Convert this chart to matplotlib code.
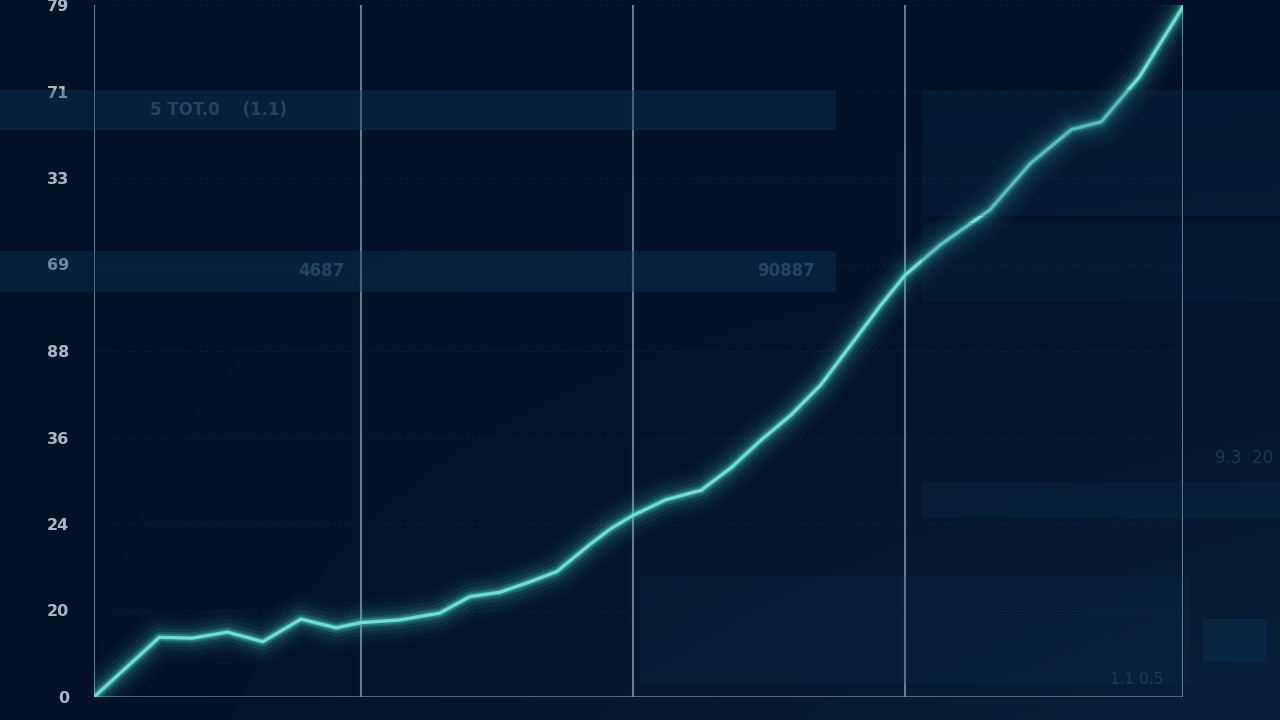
import matplotlib.pyplot as plt
from matplotlib.patches import Rectangle
import numpy as np

# Дані лінії (x: 0..40, y: 0..80 в одиницях шкали)
x_vals = [0.0, 2.4, 3.6, 4.9, 6.2, 7.6, 8.9, 9.8, 11.2, 12.7, 13.8, 14.9, 16.0,
          17.0, 18.2, 19.0, 19.8, 21.0, 22.3, 23.4, 24.5, 25.6, 26.7, 27.8,
          28.9, 29.8, 31.1, 32.9, 34.4, 35.9, 37.0, 38.4, 40.0]
y_vals = [0.0, 6.9, 6.8, 7.5, 6.4, 9.0, 8.0, 8.6, 8.9, 9.7, 11.6, 12.1, 13.3,
          14.5, 17.6, 19.5, 21.0, 22.8, 23.9, 26.5, 29.7, 32.6, 36.1, 40.7,
          45.3, 48.8, 52.3, 56.3, 61.7, 65.6, 66.5, 71.7, 79.8]

y_ticks = [0, 10, 20, 30, 40, 50, 60, 70, 80]
y_tick_labels = ['0', '20', '24', '36', '88', '69', '33', '71', '79']
x_grid = [0, 9.8, 19.8, 29.8, 40]

bg = '#03132a'
grid_col = '#7890aa'

fig = plt.figure(figsize=(12.8, 7.2), dpi=100, facecolor=bg)

# Легкий градієнт фону (світліше внизу праворуч)
grad = np.linspace(0, 1, 256)
gx, gy = np.meshgrid(grad, grad)
base = np.array([2, 17, 38]) / 255
light = np.array([9, 36, 64]) / 255
w = np.clip(0.8 * gx * (1 - gy) ** 1.5, 0, 1)[..., None]
bg_ax = fig.add_axes([0, 0, 1, 1], zorder=-10)
bg_ax.imshow(base * (1 - w) + light * w, aspect='auto', origin='lower', extent=[0, 1, 0, 1])
bg_ax.set_axis_off()

# Фонові декоративні смуги (координати фігури)
bands = [
    (0.0, 0.82, 0.653, 0.875, 0.38),
    (0.0, 0.595, 0.653, 0.652, 0.38),
    (0.72, 0.70, 1.0, 0.875, 0.22),
    (0.72, 0.58, 1.0, 0.69, 0.18),
    (0.72, 0.28, 1.0, 0.33, 0.2),
    (0.5, 0.05, 0.93, 0.2, 0.15),
    (0.94, 0.08, 0.99, 0.14, 0.3),
]
for x0, y0, x1, y1, a in bands:
    fig.patches.append(Rectangle((x0, y0), x1 - x0, y1 - y0, transform=fig.transFigure,
                                 facecolor='#0e3a60', alpha=a, edgecolor='none', zorder=0))

ax = fig.add_axes([94 / 1280, 23 / 720, (1183 - 94) / 1280, (697 - 5) / 720])
ax.set_facecolor('none')
ax.set_xlim(0, 40)
ax.set_ylim(0, 80)

# Слабка горизонтальна сітка
for yt in y_ticks[1:]:
    ax.axhline(yt, color='#2a4a6a', lw=0.8, alpha=0.3, ls=(0, (2, 3)), zorder=1)

# Вертикальні лінії
for xg in x_grid:
    ax.axvline(xg, color=grid_col, lw=1.5, alpha=0.85, zorder=2)
ax.axhline(0, color=grid_col, lw=1.8, alpha=0.85, zorder=2)

# Світіння лінії
for lw, a in [(34, 0.03), (26, 0.045), (19, 0.07), (13, 0.11), (8, 0.2), (5, 0.35)]:
    ax.plot(x_vals, y_vals, color='#45c9c0', lw=lw, alpha=a, solid_capstyle='round',
            solid_joinstyle='round', zorder=3)
ax.plot(x_vals, y_vals, color='#72dcd4', lw=2.4, solid_joinstyle='round', zorder=4)

for s in ax.spines.values():
    s.set_visible(False)
ax.set_xticks([])
ax.set_yticks(y_ticks)
ax.set_yticklabels(y_tick_labels)
ax.tick_params(axis='y', length=0, pad=18, labelsize=11.5, labelcolor='#aab6c6')
for t in ax.get_yticklabels():
    t.set_fontweight('bold')

# Бліді декоративні написи
faint = dict(color='#2c5274', fontsize=12, va='center', alpha=0.75, fontweight='bold')
fig.text(150 / 1280, 1 - 110 / 720, '5 TOT.0    (1.1)', **faint)
fig.text(298 / 1280, 1 - 271 / 720, '4687', **faint)
fig.text(757 / 1280, 1 - 271 / 720, '90887', **faint)
fig.text(1215 / 1280, 1 - 458 / 720, '9.3  20', color='#244565', fontsize=12, va='center', alpha=0.7)
fig.text(1110 / 1280, 1 - 680 / 720, '1.1 0.5', color='#244565', fontsize=11, va='center', alpha=0.7)

fig.savefig('out.png', dpi=100, facecolor=bg)
